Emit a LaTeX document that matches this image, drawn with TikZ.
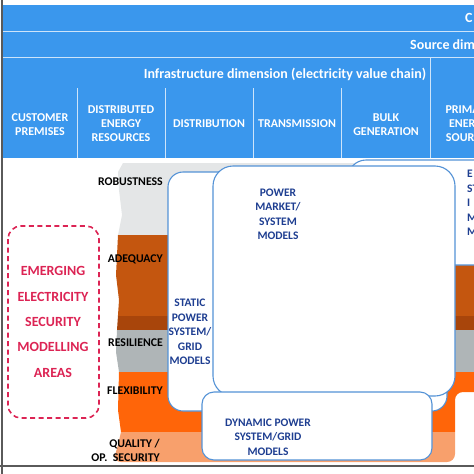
\documentclass[tikz,border=0pt]{standalone}
\usepackage{fontspec}
\setmainfont{Carlito}
\definecolor{headblue}{RGB}{58,151,237}
\definecolor{headsep}{RGB}{205,228,250}
\definecolor{boxblue}{RGB}{84,146,214}
\definecolor{modelblue}{RGB}{30,62,145}
\definecolor{areared}{RGB}{220,36,84}
\definecolor{robustgray}{RGB}{228,230,231}
\definecolor{adequacyorange}{RGB}{196,86,15}
\definecolor{adequacydark}{RGB}{168,69,11}
\definecolor{resiliencegray}{RGB}{175,181,183}
\definecolor{flexorange}{RGB}{255,101,9}
\definecolor{qualityorange}{RGB}{248,160,108}
\definecolor{framegray}{RGB}{90,90,90}
\begin{document}
\begin{tikzpicture}[x=1pt,y=-1pt,
    headtext/.style={text=white,inner sep=0pt,align=center,font=\fontsize{12}{14}\selectfont\bfseries},
    headbig/.style={headtext,font=\fontsize{14}{16}\selectfont\bfseries},
    headline/.style={draw=headsep,line width=0.8pt},
    modelbox/.style={draw=boxblue,fill=white,line width=1.1pt},
    modeltext/.style={text=modelblue,inner sep=0pt,align=center,font=\fontsize{11.5}{14.5}\selectfont\bfseries},
    bandlabel/.style={anchor=east,inner sep=0pt,align=right,font=\fontsize{11.8}{13.5}\selectfont\bfseries}]
    \useasboundingbox (0,0) rectangle (474,474);
    \clip (0,0) rectangle (474,474);

    % header: dimensions and value chain
    \fill[headblue] (3,5) rectangle (474,158);
    \draw[headline] (3,31) -- (474,31);
    \draw[headline] (3,57) -- (474,57);
    \draw[headline] (430,57) -- (430,158);
    \foreach \x in {77,165,253,341}
        \draw[headline] (\x,88) -- (\x,158);
    \node[headbig,anchor=west] (cross) at (465,18) {C};
    \node[headbig,anchor=west] (source) at (410,45) {Source dimension};
    \node[headbig] (infra) at (285,74) {Infrastructure dimension (electricity value chain)};
    \node[headtext] (customer) at (40,124.5) {CUSTOMER\\PREMISES};
    \node[headtext] (der) at (121,124) {DISTRIBUTED\\ENERGY\\RESOURCES};
    \node[headtext] (distribution) at (209,124) {DISTRIBUTION};
    \node[headtext] (transmission) at (297,124) {TRANSMISSION};
    \node[headtext] (bulk) at (386,124.5) {BULK\\GENERATION};
    \node[headtext] (primary) at (469,123.5) {PRIMARY\\ENERGY\\SOURCES};

    % security bands
    \begin{scope}
        \clip[rounded corners=8pt] (123,163) -- (500,163) -- (500,392) -- (455,392)
            -- (455,462) -- (113,462) [sharp corners] -- (118,445) -- (121,432) -- (118,410)
            -- (119,372) -- (116,352) -- (117,330) -- (119,300) -- (116,275) -- (118,235)
            -- (122,215) -- (119,190) -- (118,172) -- cycle;
        \fill[robustgray] (100,160) rectangle (500,235);
        \fill[adequacyorange] (100,235) rectangle (500,316);
        \fill[adequacydark] (100,316) rectangle (500,330);
        \fill[resiliencegray] (100,330) rectangle (500,372);
        \fill[flexorange] (100,372) rectangle (500,432);
        \fill[qualityorange] (100,432) rectangle (500,465);
    \end{scope}
    \node[bandlabel] (robustness) at (163,182) {ROBUSTNESS};
    \node[bandlabel] (adequacy) at (163,259) {ADEQUACY};
    \node[bandlabel] (resilience) at (163,343) {RESILIENCE};
    \node[bandlabel] (flexibility) at (163,391) {FLEXIBILITY};
    \node[bandlabel] (quality) at (160,450.5) {QUALITY /\\OP.~~SECURITY};

    % model boxes
    \draw[modelbox,rounded corners=18pt] (348,160) rectangle (520,265);
    \node[modeltext,anchor=north west,align=left] (storage) at (467,170) {E\\ST\\I\\M\\M};
    \draw[modelbox,rounded corners=15pt] (168,172) rectangle (447,411);
    \node[modeltext] (static) at (190,332) {STATIC\\POWER\\SYSTEM/\\GRID\\MODELS};
    \draw[modelbox,rounded corners=20pt] (213,166) rectangle (455,396);
    \node[modeltext] (market) at (278,214.5) {POWER\\MARKET/\\SYSTEM\\MODELS};
    \draw[modelbox,rounded corners=12pt] (202,392) rectangle (432,460);
    \node[modeltext] (dynamic) at (268,437) {DYNAMIC POWER\\SYSTEM/GRID\\MODELS};

    % emerging areas
    \draw[areared,line width=1.6pt,dash pattern=on 5pt off 3.5pt,rounded corners=13pt]
        (8,226) rectangle (99,418);
    \node[text=areared,inner sep=0pt,align=center,font=\fontsize{14}{25.3}\selectfont\bfseries]
        (emerging) at (53,322) {EMERGING\\ELECTRICITY\\SECURITY\\MODELLING\\AREAS};

    % frame
    \draw[framegray,line width=1.5pt] (2,0) -- (2,474);
    \draw[framegray,line width=2pt] (0,466) -- (474,466);
\end{tikzpicture}
\end{document}
